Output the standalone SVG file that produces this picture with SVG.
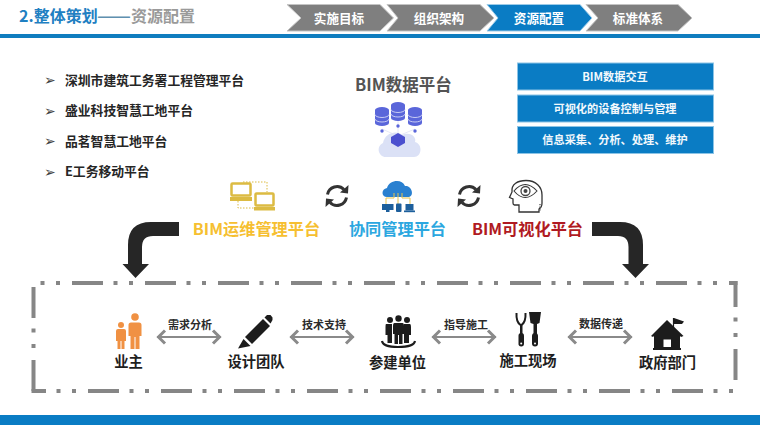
<svg xmlns="http://www.w3.org/2000/svg" width="760" height="425" viewBox="0 0 760 425">
<style>
text{font-family:"Noto Sans CJK SC","Noto Sans",sans-serif;font-weight:700}
.chev{fill:#7f7f7f;stroke:#c4c4c4;stroke-width:1}
.on{fill:#0a7cc4;stroke:#9ccbe8}
.ct{font-size:12.6px;fill:#fff;text-anchor:middle}
.li{font-size:12.8px;fill:#262626}
.bul{font-family:"DejaVu Sans",sans-serif;font-size:14px;fill:#404040;font-weight:400}
.box{fill:#0a7cc4;stroke:#8cc4e6;stroke-width:1}
.bt{font-size:11.2px;fill:#f2f8fc;text-anchor:middle}
.pf{font-size:16.2px;text-anchor:middle}
.nl{font-size:14.3px;fill:#1e1e1e;text-anchor:middle}
.el{font-size:11px;fill:#2b2b2b;text-anchor:middle}
.frame{stroke:#868686;stroke-width:4;fill:none;stroke-dasharray:31 10.5 4 11.5 4 12}
.edge{fill:none;stroke:#8a8a8a;stroke-width:2.2}
.head{fill:none;stroke:#8a8a8a;stroke-width:3}
.sync{fill:none;stroke:#333;stroke-width:3}
.big{fill:#262626}
.blk{fill:#1c1c1c}
.or{fill:#f09143}
.cyl{fill:#5a66da}
.cs{fill:none;stroke:#c8ccf4;stroke-width:1}
.yl{fill:#dcbb42}
.yd{fill:none;stroke:#dcbb42;stroke-width:1;stroke-dasharray:1.5 1.5}
</style>
<defs>
<g id="sync">
<path class="sync" d="M-9.5-1.5A9.7 9.7 0 0 1 7-6.5"/>
<path class="sync" d="M9.5 1.5A9.7 9.7 0 0 1-7 6.5"/>
<polygon fill="#333" points="11.5,-11 11,-2.5 3,-3.5"/>
<polygon fill="#333" points="-11.5,11 -11,2.5 -3,3.5"/>
</g>
<g id="db">
<ellipse class="cyl" cx="0" cy="3" rx="7" ry="3"/>
<rect class="cyl" x="-7" y="3" width="14" height="13"/>
<ellipse class="cyl" cx="0" cy="16" rx="7" ry="3"/>
<path class="cs" d="M-7 7.5A7 3 0 0 0 7 7.5M-7 12A7 3 0 0 0 7 12"/>
<circle class="cyl" cx="0" cy="24" r="1.7"/>
</g>
<g id="dbl">
<path class="edge" d="M0 0H64"/>
<path class="head" d="M8-6.5L1.5 0L8 6.5M56-6.5L62.5 0L56 6.5"/>
</g>
</defs>

<g id="header">
<text x="19" y="22" font-size="16" fill="#1f80c2">2.整体策划</text>
<text x="97" y="22" font-size="16.500" fill="#5f90b0" textLength="34" lengthAdjust="spacingAndGlyphs">——</text>
<text x="131" y="22" font-size="16" fill="#9a9a9a">资源配置</text>
<rect x="0" y="34" width="760" height="4" fill="#0f7dbf"/>
</g>

<g id="nav">
<g id="nav1"><polygon class="chev" points="287,4.5 380,4.5 393.5,18 380,31 287,31 301,18"/><text class="ct" x="339" y="22.5">实施目标</text></g>
<g id="nav2"><polygon class="chev" points="387,4.5 480,4.5 494,18 480,31 387,31 398,18"/><text class="ct" x="439" y="22.5">组织架构</text></g>
<g id="nav3"><polygon class="chev on" points="487,4.5 580,4.5 592,18 580,31 487,31 498,18"/><text class="ct" x="539" y="22.5">资源配置</text></g>
<g id="nav4"><polygon class="chev" points="586,4.5 678,4.5 692,18 678,31 586,31 598,18"/><text class="ct" x="638" y="22.5">标准体系</text></g>
</g>

<g id="list">
<text class="bul" x="44" y="85">➢</text><text class="li" x="65" y="84.500">深圳市建筑工务署工程管理平台</text>
<text class="bul" x="44" y="115.500">➢</text><text class="li" x="65" y="115">盛业科技智慧工地平台</text>
<text class="bul" x="44" y="146">➢</text><text class="li" x="65" y="145.500">品茗智慧工地平台</text>
<text class="bul" x="44" y="176.500">➢</text><text class="li" x="65" y="176">E工务移动平台</text>
</g>

<g id="data-platform">
<text x="403.5" y="91" font-size="16.5" fill="#545454" text-anchor="middle">BIM数据平台</text>
<path d="M386 157C378 157 376 146 383 143C385 133 396 130 402 135C410 131 417 137 415 142C423 144 422 157 414 157Z" fill="#dbe1f6"/>
<path d="M382 129L398 136L415 129M398 121V136" fill="none" stroke="#dfe2f6" stroke-width="0.8"/>
<use href="#db" x="382" y="107"/>
<use href="#db" x="398" y="102"/>
<use href="#db" x="415" y="107"/>
<polygon points="398,133 405,137 405,143 398,147 391,143 391,137" fill="#4b50cf"/>
</g>

<g id="boxes">
<g id="box1"><rect class="box" x="517.5" y="63" width="196" height="27"/><text class="bt" x="615" y="80.5">BIM数据交互</text></g>
<g id="box2"><rect class="box" x="517.5" y="95" width="196" height="27"/><text class="bt" x="615" y="112.5">可视化的设备控制与管理</text></g>
<g id="box3"><rect class="box" x="517.5" y="126.5" width="196" height="27"/><text class="bt" x="615" y="144">信息采集、分析、处理、维护</text></g>
</g>

<g id="ops-platform">
<path class="yd" d="M243 182H267V192M238 198V208H254"/>
<rect x="231.5" y="183.5" width="19" height="12" rx="1" fill="#fff" stroke="#dcbb42" stroke-width="2.5"/>
<rect class="yl" x="230" y="197" width="22" height="4"/>
<rect x="255.5" y="193.5" width="18" height="12" rx="1" fill="#fff" stroke="#dcbb42" stroke-width="2.5"/>
<rect class="yl" x="254" y="207" width="21" height="3.5"/>
<text class="pf" x="256.5" y="235" fill="#f6bf31">BIM运维管理平台</text>
</g>

<use id="sync1" href="#sync" x="337" y="196"/>

<g id="collab-platform">
<path d="M387 197C381 197 381 189 387 188C389 180 402 178 405 186C412 185 415 197 408 197Z" fill="#2a80d0"/>
<path d="M398 193V200M394 193V198H386V204M402 193V198H410V204M398 200V204" fill="none" stroke="#e9c24a" stroke-width="1"/>
<rect x="382" y="204" width="11.5" height="6" fill="#1d5f9c"/><rect x="386" y="210" width="3.5" height="2" fill="#1d5f9c"/>
<rect x="396" y="203.500" width="5.500" height="8.500" rx="1" fill="#1d5f9c"/>
<rect x="405.500" y="204" width="8" height="6.500" fill="#1d5f9c"/><rect x="404" y="210.500" width="11" height="1.700" fill="#1d5f9c"/>
<text class="pf" x="397.500" y="235" fill="#2ba7e0">协同管理平台</text>
</g>

<use id="sync2" href="#sync" x="469" y="196"/>

<g id="vis-platform">
<path d="M519 212V205H514.500A2 2 0 0 1 513 203V199L509.500 197.500L512 192C511 184 518 180.500 526 180.500C536 180.500 542 187 542 195V203C542 206 541 208 539 209V212Z" fill="#fff" stroke="#333" stroke-width="1.300"/>
<path d="M514 191Q525 178 537 191Q525 204 514 191Z" fill="#fff" stroke="#333" stroke-width="1.100"/>
<circle cx="525.500" cy="191" r="4.500" fill="none" stroke="#444" stroke-width="1.300"/>
<circle cx="525.500" cy="191" r="2" fill="#444"/>
<path d="M540 204V211" stroke="#555" stroke-width="1.300" stroke-dasharray="1.300 1.300" fill="none"/>
<text class="pf" x="527.500" y="235" fill="#b01a22">BIM可视化平台</text>
</g>

<g id="connectors">
<path class="big" d="M179 222V236H153Q142 236 142 247V264H149L135.500 278L122.500 264H128V245Q128 222 151 222Z"/>
<path class="big" d="M592 222V236H618Q628.500 236 628.500 247V264H622L635.500 278L649 264H643V245Q643 222 620 222Z"/>
<use href="#dbl" x="157" y="337"/>
<use href="#dbl" x="290" y="337"/>
<use href="#dbl" x="432" y="337"/>
<use href="#dbl" x="568" y="337"/>
<text class="el" x="190" y="328.500">需求分析</text>
<text class="el" x="324" y="328.500">技术支持</text>
<text class="el" x="466" y="328.500">指导施工</text>
<text class="el" x="601" y="328">数据传递</text>
</g>

<g id="frame">
<line class="frame" x1="40" y1="283" x2="737.500" y2="283" stroke-dashoffset="41"/>
<line class="frame" x1="735.500" y1="281" x2="735.500" y2="381" stroke-dashoffset="5"/>
<line class="frame" x1="31.500" y1="391" x2="735" y2="391" stroke-dashoffset="16.500"/>
<line class="frame" x1="33.500" y1="287" x2="33.500" y2="392"/>
</g>

<g id="owner">
<circle class="or" cx="121" cy="325" r="3"/>
<path class="or" d="M118 329H124Q126 329 126 331V341H124.500V349H121.500V341H120.500V349H117.500V341H116V331Q116 329 118 329Z"/>
<circle class="or" cx="135" cy="317" r="3.800"/>
<path class="or" d="M131 322.500H139Q141.500 322.500 141.500 325V336H139.500V349H135.500V337H134.500V349H130.500V336H128.500V325Q128.500 322.500 131 322.500Z"/>
<text class="nl" x="128.500" y="367">业主</text>
</g>

<g id="design-team">
<polygon class="blk" points="245,337 263,319 270,326 252,344"/>
<polygon class="blk" points="264.500,317.500 267,315 270.500,315 272.500,317.500 272.500,320 270.500,323.500"/>
<polygon class="blk" points="243.500,339 250.500,346 238,348.500"/>
<text class="nl" x="256" y="367">设计团队</text>
</g>

<g id="units">
<circle class="blk" cx="390" cy="320" r="3"/><circle class="blk" cx="398.500" cy="318.500" r="3.200"/><circle class="blk" cx="407" cy="320" r="3"/>
<path class="blk" d="M386 324H392V343H387.500V335H385.500V327Q385.500 324 386 324Z"/>
<path class="blk" d="M404 324H410Q411 324 411 327V335H409V343H404Z"/>
<path class="blk" d="M394.500 323H402.500Q404 323 404 326V334H402.500V344H399V335H398V344H394.500V334H393V326Q393 323 394.500 323Z"/>
<path d="M382 341Q383 347 398 347Q414 347 415 341" fill="none" stroke="#1c1c1c" stroke-width="2.200"/>
<text class="nl" x="397.500" y="368">参建单位</text>
</g>

<g id="site">
<path d="M516.500 313Q516 322 520.500 325H521.500Q526 322 525.500 313" fill="none" stroke="#1c1c1c" stroke-width="2"/>
<rect class="blk" x="520" y="324" width="2.500" height="10"/>
<rect class="blk" x="518.500" y="333" width="5.500" height="13.500" rx="2.700"/>
<polygon class="blk" points="529,312 541,312 539.500,323 537,324 537,334 533.500,334 533.500,324 530.500,323"/>
<rect class="blk" x="532" y="333" width="6" height="13.500" rx="3"/>
<circle cx="521.200" cy="343.500" r="1" fill="#fff"/><circle cx="535" cy="343.500" r="1" fill="#fff"/>
<text class="nl" x="528" y="366">施工现场</text>
</g>

<g id="gov">
<polygon class="blk" points="667,320 683.500,336 681,337 680,336 680,348 654,348 654,336 653,337 651,336"/>
<rect class="blk" x="653" y="348" width="28" height="2"/>
<rect x="663.500" y="339.500" width="7.500" height="7.500" fill="#fff"/>
<path d="M673.500 329V318" stroke="#1c1c1c" stroke-width="1.200" fill="none"/>
<polygon class="blk" points="674,318 684,321.500 682,324 674,324"/>
<text class="nl" x="667.500" y="368">政府部门</text>
</g>

<rect id="footer" x="0" y="415" width="760" height="10" fill="#0a7cc4"/>
</svg>
